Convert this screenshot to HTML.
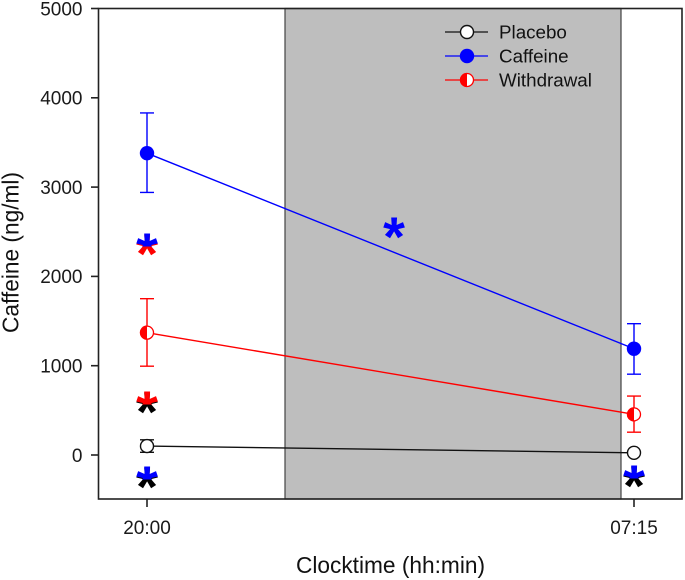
<!DOCTYPE html>
<html>
<head>
<meta charset="utf-8">
<title>Caffeine chart</title>
<style>
html,body{margin:0;padding:0;background:#fff;}
svg{display:block;font-family:"Liberation Sans",Arial,sans-serif;}
</style>
</head>
<body>
<svg id="chart" width="685" height="580" viewBox="0 0 685 580" xmlns="http://www.w3.org/2000/svg"></svg>
<script>
const categories = ['20:00', '07:15'];
const yTickValues = [0, 1000, 2000, 3000, 4000, 5000];
const placeboMean = [100, 25];
const placeboLow = [30, 25];
const placeboHigh = [170, 25];
const caffeineMean = [3380, 1190];
const caffeineLow = [2940, 905];
const caffeineHigh = [3830, 1470];
const withdrawalMean = [1370, 455];
const withdrawalLow = [995, 255];
const withdrawalHigh = [1750, 660];

const svgNS = 'http://www.w3.org/2000/svg';
const svg = document.getElementById('chart');
const PLOT = {left: 98.5, right: 682, top: 8.5, bottom: 499};
const yZero = 455, pxPerUnit = 0.08930;
const xCat = [147, 634];
function xScale(i) { return xCat[i]; }
function yScale(v) { return yZero - v * pxPerUnit; }

function mk(tag, attrs, parent) {
  const el = document.createElementNS(svgNS, tag);
  for (const k in attrs) el.setAttribute(k, attrs[k]);
  (parent || svg).appendChild(el);
  return el;
}

const band = mk('rect', {x: 285, y: PLOT.top, width: 336, height: PLOT.bottom - PLOT.top, fill: '#bebebe', stroke: '#444', 'stroke-width': 1.2});



const frame = mk('rect', {x: PLOT.left, y: PLOT.top, width: PLOT.right - PLOT.left, height: PLOT.bottom - PLOT.top, fill: 'none', stroke: '#222', 'stroke-width': 1.6});



yTickValues.forEach(v => {
  const t = mk('line', {x1: 91, x2: PLOT.left, y1: yScale(v), y2: yScale(v), stroke: '#222', 'stroke-width': 1.6});
  
  
  const l = mk('text', {x: 82.5, y: yScale(v) + 6.8, 'text-anchor': 'end', 'font-size': 19, fill: '#1a1a1a'});
  l.textContent = v;
  
  
});

categories.forEach((c, i) => {
  const t = mk('line', {x1: xScale(i), x2: xScale(i), y1: PLOT.bottom, y2: 507, stroke: '#222', 'stroke-width': 1.6});
  
  
  const l = mk('text', {x: xScale(i), y: 534, 'text-anchor': 'middle', 'font-size': 19, fill: '#1a1a1a'});
  l.textContent = c;
  
  
});

const xTitle = mk('text', {x: 390.5, y: 573, 'text-anchor': 'middle', 'font-size': 22.7, fill: '#111'});
xTitle.textContent = 'Clocktime (hh:min)';



const yTitle = mk('text', {x: 0, y: 0, transform: 'translate(18.5 252.5) rotate(-90)', 'text-anchor': 'middle', 'font-size': 22.7, fill: '#111'});
yTitle.textContent = 'Caffeine (ng/ml)';



function marker(cx, cy, kind, color, g) {
  if (kind === 'half') {
    mk('circle', {cx, cy, r: 6.5, fill: '#fff', stroke: color, 'stroke-width': 1.3}, g);
    mk('path', {d: `M${cx} ${cy - 7.1}A7.1 7.1 0 0 0 ${cx} ${cy + 7.1}Z`, fill: color}, g);
  } else if (kind === 'open') {
    mk('circle', {cx, cy, r: 6.5, fill: '#fff', stroke: '#111', 'stroke-width': 1.4}, g);
  } else {
    mk('circle', {cx, cy, r: 7.2, fill: color}, g);
  }
}

function drawSeries(name, mean, low, high, color, kind) {
  const g = mk('g', {});
  
  
  mk('line', {x1: xScale(0), y1: yScale(mean[0]), x2: xScale(1), y2: yScale(mean[1]), stroke: color, 'stroke-width': 1.4}, g);
  mean.forEach((m, i) => {
    const x = xScale(i), yl = yScale(low[i]), yh = yScale(high[i]);
    mk('path', {d: `M${x} ${yl}V${yh}M${x - 7} ${yl}H${x + 7}M${x - 7} ${yh}H${x + 7}`, fill: 'none', stroke: color, 'stroke-width': 1.4}, g);
    marker(x, yScale(m), kind, color, g);
  });
}
drawSeries('placebo', placeboMean, placeboLow, placeboHigh, '#111', 'open');
drawSeries('withdrawal', withdrawalMean, withdrawalLow, withdrawalHigh, '#f00', 'half');
drawSeries('caffeine', caffeineMean, caffeineLow, caffeineHigh, '#00f', 'filled');

const defs = mk('defs', {});
let clipCount = 0;
function star(x, cy, topColor, bottomColor, name) {
  const baseline = cy + 27;
  const g = mk('g', {'font-size': 56, 'font-weight': 'bold', 'text-anchor': 'middle'});
  
  
  if (bottomColor) {
    const b = mk('text', {x, y: baseline + 1, fill: bottomColor}, g);
    b.textContent = '*';
    const id = 'star-clip-' + (++clipCount);
    const cp = mk('clipPath', {id}, defs);
    mk('rect', {x: x - 20, y: cy - 20, width: 40, height: 21.5}, cp);
    const a = mk('text', {x, y: baseline, fill: topColor, 'clip-path': `url(#${id})`}, g);
    a.textContent = '*';
  } else {
    const a = mk('text', {x, y: baseline, fill: topColor}, g);
    a.textContent = '*';
  }
}
star(147, 245, '#00f', '#f00', 'significance-star-caffeine-withdrawal');
star(147, 403, '#f00', '#000', 'significance-star-withdrawal-placebo');
star(147, 478, '#00f', '#000', 'significance-star-caffeine-placebo-2000');
star(394, 229, '#00f', null, 'significance-star-caffeine-time');
star(634, 477, '#00f', '#000', 'significance-star-caffeine-placebo-0715');

const legendNames = ['Placebo', 'Caffeine', 'Withdrawal'];
const legendColors = ['#111', '#00f', '#f00'];
const legendKinds = ['open', 'filled', 'half'];
legendNames.forEach((n, i) => {
  const y = 32 + i * 24;
  const g = mk('g', {});
  
  
  mk('line', {x1: 445, x2: 488, y1: y, y2: y, stroke: legendColors[i], 'stroke-width': 1.3}, g);
  marker(467, y, legendKinds[i], legendColors[i], g);
  const t = mk('text', {x: 499, y: y + 6.5, 'font-size': 18.8, fill: '#111'}, g);
  t.textContent = n;
});
</script>
</body>
</html>
